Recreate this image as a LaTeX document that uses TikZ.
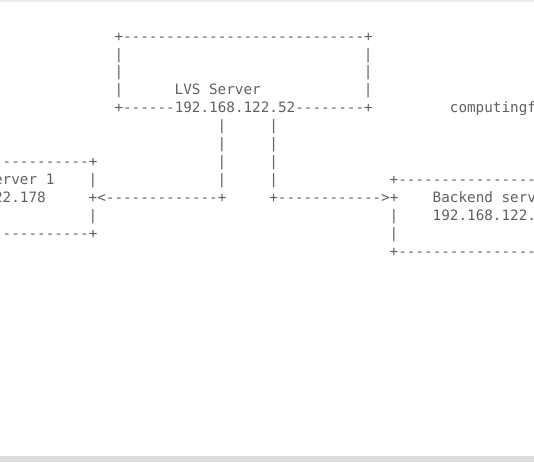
\documentclass[tikz,border=0pt]{standalone}
\usepackage{fontspec}
\setmonofont{DejaVu Sans Mono}
\definecolor{asciigray}{HTML}{606060}
\definecolor{edgegray}{HTML}{DDDDDD}
\tikzset{asc/.style={font=\ttfamily\fontsize{14.3pt}{17pt}\selectfont, text=asciigray,
    inner sep=0pt, outer sep=0pt, anchor=base west, yshift=-5.2pt}}

\begin{document}
\begin{tikzpicture}[x=1pt,y=-1pt]
	\useasboundingbox (0,0) rectangle (534,462);
	\clip (0,0) rectangle (534,462);
	\fill[edgegray!60] (0,0) rectangle (534,2.5);
	\fill[edgegray] (0,455.7) rectangle (534,462);
	% one unit = one character cell
	\begin{scope}[shift={(88.7,36)}, x=8.6pt, y=-17.9pt]
		% LVS server box
		\node[asc] (lvstop) at (3,0) {+----------------------------+};
		\foreach \r in {1,2,3} {
			\node[asc] (lvsl\r) at (3,\r) {|};
			\node[asc] (lvsr\r) at (32,\r) {|};
		}
		\node[asc] (lvsname) at (10,3) {LVS Server};
		\node[asc] (lvsip) at (3,4) {+------192.168.122.52--------+};
		\node[asc] (site) at (42,4) {computingf};
		% links down from the LVS box
		\foreach \r in {5,...,8} {
			\node[asc] (downl\r) at (15,\r) {|};
			\node[asc] (downr\r) at (21,\r) {|};
		}
		% backend server 1
		\node[asc] (onetop) at (-13,7) {-------------+};
		\node[asc] (onename) at (-11,8) {erver 1};
		\node[asc] (oner8) at (0,8) {|};
		\node[asc] (oneip) at (-11,9) {22.178};
		\node[asc] (toone) at (0,9) {+<-------------+};
		\node[asc] (oner10) at (0,10) {|};
		\node[asc] (onebot) at (-13,11) {-------------+};
		% backend server 2
		\node[asc] (twotop) at (35,8) {+-----------------};
		\node[asc] (totwo) at (21,9) {+------------>+};
		\node[asc] (twoname) at (40,9) {Backend serv};
		\node[asc] (twol10) at (35,10) {|};
		\node[asc] (twoip) at (40,10) {192.168.122.};
		\node[asc] (twol11) at (35,11) {|};
		\node[asc] (twobot) at (35,12) {+-----------------};
	\end{scope}
\end{tikzpicture}
\end{document}
